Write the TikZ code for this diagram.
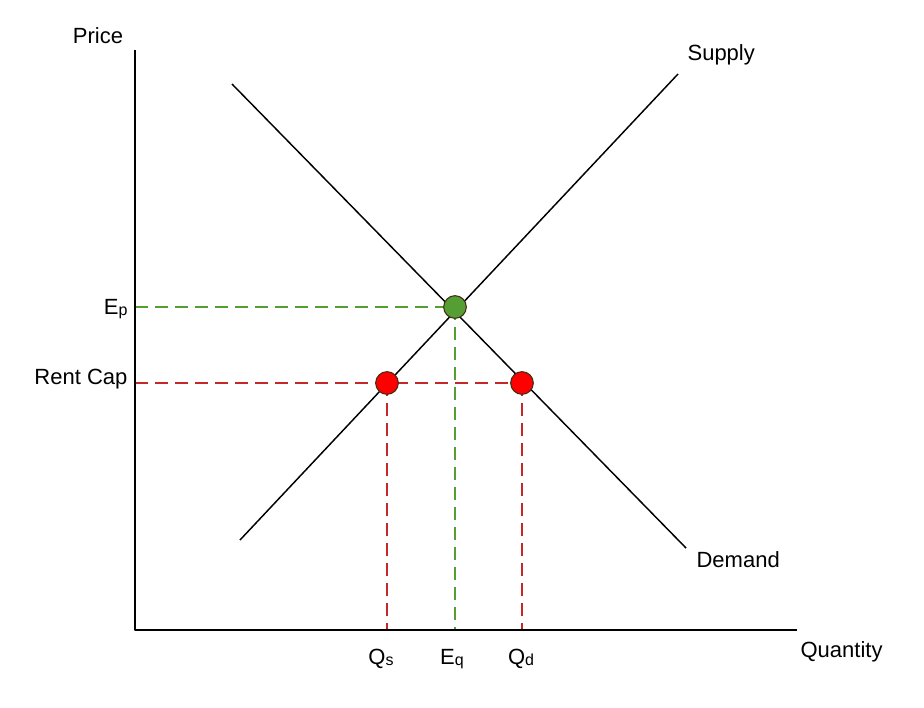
\documentclass[tikz,border=0pt]{standalone}
\usepackage{fontspec}
\setmainfont{Liberation Sans}
\usetikzlibrary{positioning}

\definecolor{eqgreen}{RGB}{84,158,52}
\definecolor{capred}{RGB}{196,40,40}
\definecolor{dotline}{RGB}{70,45,25}

\begin{document}
\begin{tikzpicture}[x=0.75pt, y=-0.75pt, line join=bevel]

    % one unit is one pixel of the 924 x 707 reference, y runs downwards
    \useasboundingbox (0,0) rectangle (924,707);

    \tikzset{%
      axis_line/.style  = {line width=1.5pt, draw=black},
      curve_line/.style = {line width=1.1pt, draw=black},
      eq_guide/.style   = {line width=1.1pt, draw=eqgreen, dash pattern=on 10pt off 5pt},
      cap_guide/.style  = {line width=1.1pt, draw=capred, dash pattern=on 10pt off 5pt},
      eq_dot/.style     = {circle, minimum size=17pt, inner sep=0pt, fill=eqgreen, draw=dotline, line width=0.8pt},
      cap_dot/.style    = {circle, minimum size=17pt, inner sep=0pt, fill=red, draw=dotline, line width=0.8pt},
      lbl/.style        = {font=\fontsize{16.5}{19}\selectfont, inner sep=1pt}
    }

    % axes
    \coordinate (O)     at (135,630);
    \coordinate (ytop)  at (135,50);
    \coordinate (xend)  at (797,630);

    % market curves
    \coordinate (s0) at (240,540);
    \coordinate (s1) at (678,74);
    \coordinate (d0) at (232,84);
    \coordinate (d1) at (686,548);

    % equilibrium and rent cap points
    \coordinate (E)  at (455,307);
    \coordinate (Qs) at (387,383);
    \coordinate (Qd) at (522,383);

    \coordinate (Ey) at (O |- E);
    \coordinate (Cy) at (O |- Qs);
    \coordinate (Ex) at (E |- O);
    \coordinate (Sx) at (Qs |- O);
    \coordinate (Dx) at (Qd |- O);

    % guide lines
    \draw[eq_guide]  (Ey) -- (E) -- (Ex);
    \draw[cap_guide] (Cy) -- (Qd);
    \draw[cap_guide] (Qs) -- (Sx);
    \draw[cap_guide] (Qd) -- (Dx);

    \draw[curve_line] (s0) -- (s1);
    \draw[curve_line] (d0) -- (d1);

    \draw[axis_line] (ytop) -- (O) -- (xend);

    \node[eq_dot]  (eqpt)  at (E)  {};
    \node[cap_dot] (spt)   at (Qs) {};
    \node[cap_dot] (dpt)   at (Qd) {};

    % labels
    \node[lbl] (price)    at (98,36)  {Price};
    \node[lbl, anchor=west] (supply)   at (686,55)  {Supply};
    \node[lbl, anchor=west] (demand)   at (695,560) {Demand};
    \node[lbl, anchor=west] (quantity) at (799,652) {Quantity};
    \node[lbl, anchor=east] (eplbl)    at (129,309) {E{\fontsize{12}{13}\selectfont\raisebox{-1pt}{p}}};
    \node[lbl, anchor=east] (caplbl)   at (129,379) {Rent Cap};
    \node[lbl] (qslbl) at (381,659) {Q{\fontsize{12}{13}\selectfont\raisebox{-1pt}{s}}};
    \node[lbl] (eqlbl) at (452,659) {E{\fontsize{12}{13}\selectfont\raisebox{-1pt}{q}}};
    \node[lbl] (qdlbl) at (521,659) {Q{\fontsize{12}{13}\selectfont\raisebox{-1pt}{d}}};

\end{tikzpicture}
\end{document}
